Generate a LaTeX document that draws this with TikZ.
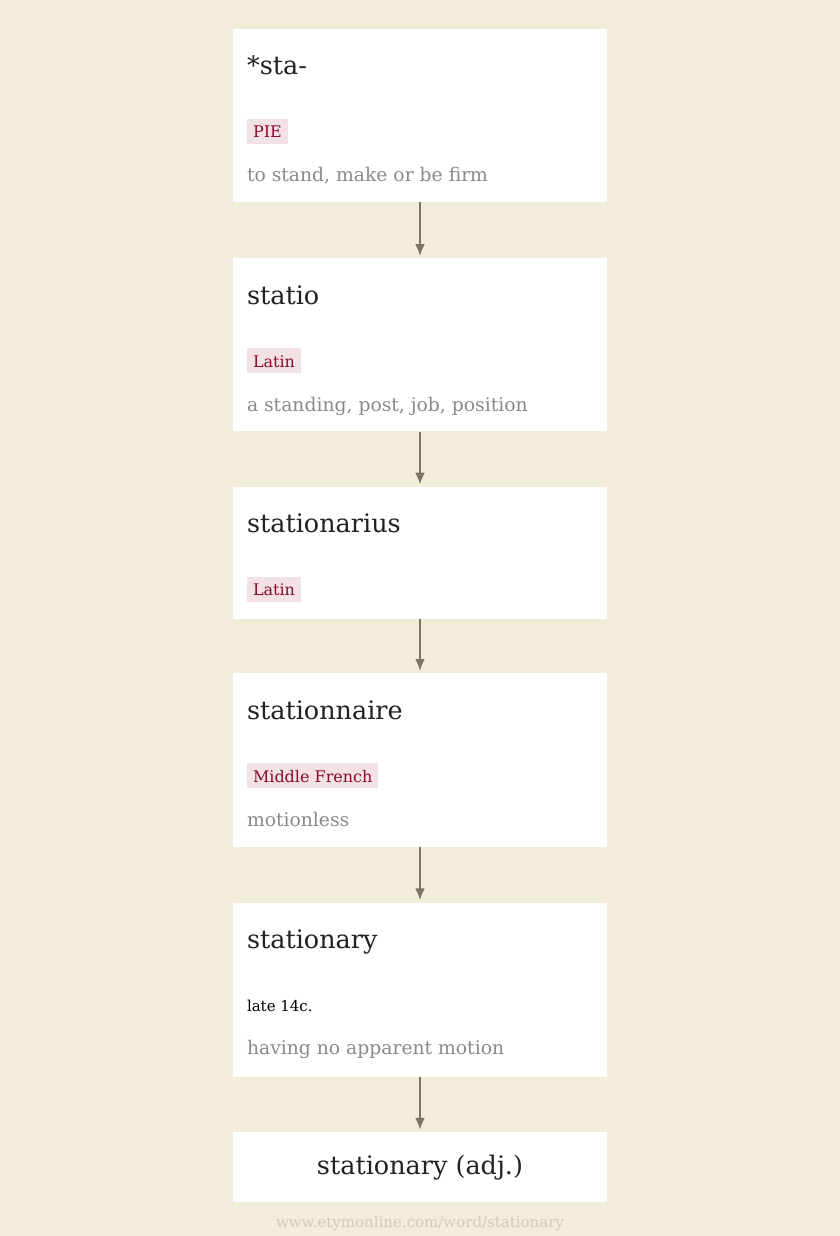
\documentclass[tikz,border=0pt]{standalone}
\usepackage{fontspec}
\setmainfont{DejaVu Serif}
\usetikzlibrary{arrows.meta}
\usetikzlibrary{positioning}
\definecolor{paper}{HTML}{F2ECDA}
\definecolor{inkdark}{HTML}{222222}
\definecolor{tagpink}{HTML}{F3E2E5}
\definecolor{tagred}{HTML}{8A0A2A}
\definecolor{glossgray}{HTML}{8A8A8A}
\definecolor{arrowgray}{HTML}{7B7565}
\definecolor{footgray}{HTML}{D2CABA}
\tikzset{
	entry/.style={fill=white, minimum width=374pt, inner sep=0pt},
	headword/.style={anchor=base west, inner sep=0pt, text=inkdark, font=\fontsize{25.5}{28}\selectfont},
	langtag/.style={anchor=base west, fill=tagpink, text=tagred, inner xsep=6pt, inner ysep=0pt, text height=19pt, text depth=6pt, font=\fontsize{16}{18}\selectfont},
	gloss/.style={anchor=base west, inner sep=0pt, text=glossgray, font=\fontsize{18.75}{22}\selectfont},
	datenote/.style={anchor=base west, inner sep=0pt, text=black, font=\fontsize{15}{17}\selectfont},
	descent/.style={line width=2.4pt, draw=arrowgray, -{Latex[length=12pt,width=10pt]}, shorten >=2pt},
}

\begin{document}
\begin{tikzpicture}[x=1pt, y=1pt]
				\useasboundingbox[fill=paper] (0,0) rectangle (840,-1236);

				% word boxes, top to bottom
				\node[entry, minimum height=173pt] (sta) at (420,-115.5) {};
				\node[entry, minimum height=173pt, below=56pt of sta] (statio) {};
				\node[entry, minimum height=132pt, below=55pt of statio] (stationarius) {};
				\node[entry, minimum height=174pt, below=54pt of stationarius] (stationnaire) {};
				\node[entry, minimum height=174pt, below=55pt of stationnaire] (stationary) {};
				\node[entry, minimum height=70pt, below=55pt of stationary] (final) {};

				\node[headword, xshift=14pt, yshift=-46pt] (sta-word) at (sta.north west) {*sta-};
				\node[langtag, xshift=14pt, yshift=-109pt] (sta-lang) at (sta.north west) {PIE};
				\node[gloss, xshift=14pt, yshift=-153pt] (sta-gloss) at (sta.north west) {to stand, make or be firm};

				\node[headword, xshift=14pt, yshift=-46pt] (statio-word) at (statio.north west) {statio};
				\node[langtag, xshift=14pt, yshift=-109pt] (statio-lang) at (statio.north west) {Latin};
				\node[gloss, xshift=14pt, yshift=-153pt] (statio-gloss) at (statio.north west) {a standing, post, job, position};

				\node[headword, xshift=14pt, yshift=-46pt] (stationarius-word) at (stationarius.north west) {stationarius};
				\node[langtag, xshift=14pt, yshift=-109pt] (stationarius-lang) at (stationarius.north west) {Latin};

				\node[headword, xshift=14pt, yshift=-46pt] (stationnaire-word) at (stationnaire.north west) {stationnaire};
				\node[langtag, xshift=14pt, yshift=-109pt] (stationnaire-lang) at (stationnaire.north west) {Middle French};
				\node[gloss, xshift=14pt, yshift=-153pt] (stationnaire-gloss) at (stationnaire.north west) {motionless};

				\node[headword, xshift=14pt, yshift=-46pt] (stationary-word) at (stationary.north west) {stationary};
				\node[datenote, xshift=14pt, yshift=-109pt] (stationary-date) at (stationary.north west) {late 14c.};
				\node[gloss, xshift=14pt, yshift=-152pt] (stationary-gloss) at (stationary.north west) {having no apparent motion};

				\node[headword, anchor=base, yshift=-43pt] (final-word) at (final.north) {stationary (adj.)};
				\node[anchor=base, inner sep=0pt, text=footgray, font=\fontsize{15}{17}\selectfont, yshift=-25pt] (source) at (final.south) {www.etymonline.com/word/stationary};

				% descent arrows
				\draw[descent] (sta) -- (statio);
				\draw[descent] (statio) -- (stationarius);
				\draw[descent] (stationarius) -- (stationnaire);
				\draw[descent] (stationnaire) -- (stationary);
				\draw[descent] (stationary) -- (final);
			\end{tikzpicture}
\end{document}
